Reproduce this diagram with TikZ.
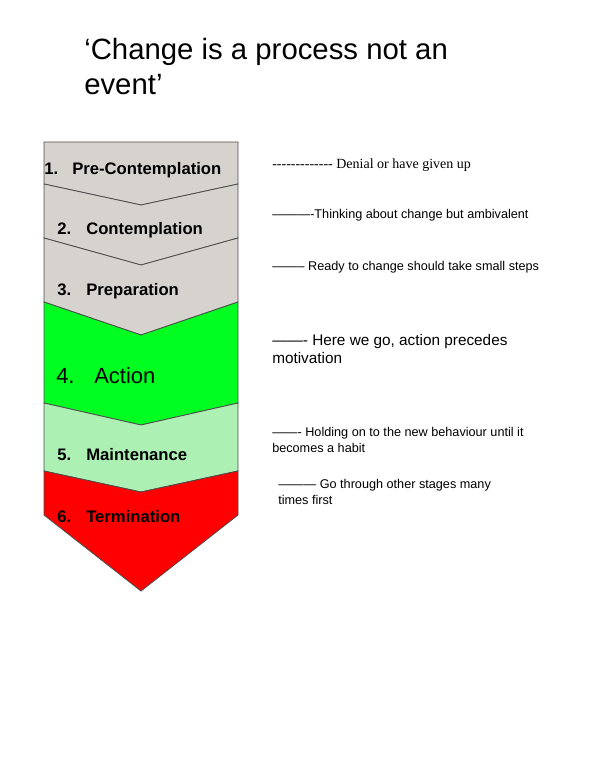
\documentclass[tikz,border=0pt]{standalone}
\usepackage{fontspec}
\setmainfont{Liberation Sans}
\newfontfamily\serifx{Liberation Serif}
\begin{document}
\begin{tikzpicture}[x=0.75pt,y=-0.75pt,
 stage/.style={draw=black!70,line width=0.6pt},
 lab/.style={anchor=west,font=\fontsize{12.5}{14}\selectfont\bfseries,inner sep=0},
 note/.style={anchor=west,font=\fontsize{9.5}{12}\selectfont,inner sep=0,align=left}]
\useasboundingbox (0,0) rectangle (600,776);
\definecolor{grayS}{RGB}{214,211,206}
\definecolor{greenS}{RGB}{0,255,33}
\definecolor{lgreenS}{RGB}{173,240,180}
\definecolor{redS}{RGB}{255,0,0}
\node[anchor=north west,align=left,inner sep=0,font=\fontsize{22}{26}\selectfont] (title) at (84,38) {‘Change is a process not an\\event’};
% stages
\fill[grayS,stage] (44,142) -- (238,142) -- (238,184) -- (141,205) -- (44,184) -- cycle;
\fill[grayS,stage] (44,184) -- (141,205) -- (238,184) -- (238,238) -- (141,265) -- (44,238) -- cycle;
\fill[grayS,stage] (44,238) -- (141,265) -- (238,238) -- (238,302) -- (141,335) -- (44,302) -- cycle;
\fill[greenS,stage] (44,302) -- (141,335) -- (238,302) -- (238,403) -- (141,425) -- (44,403) -- cycle;
\fill[lgreenS,stage] (44,403) -- (141,425) -- (238,403) -- (238,471) -- (141,492) -- (44,471) -- cycle;
\fill[redS,stage] (44,471) -- (141,492) -- (238,471) -- (238,515) -- (141,591) -- (44,515) -- cycle;
% labels
\node[lab] (l1) at (44,170) {\makebox[21pt][l]{1.}Pre-Contemplation};
\node[lab] (l2) at (57,230) {\makebox[21.75pt][l]{2.}Contemplation};
\node[lab] (l3) at (57,291) {\makebox[21.75pt][l]{3.}Preparation};
\node[lab,font=\fontsize{16.5}{18}\selectfont] (l4) at (56,376) {\makebox[28.5pt][l]{4.}Action};
\node[lab] (l5) at (57,455) {\makebox[21.75pt][l]{5.}Maintenance};
\node[lab] (l6) at (57,517) {\makebox[21.75pt][l]{6.}Termination};
% notes
\node[note,font=\fontsize{10.5}{12}\selectfont\serifx] (n1) at (272,165) {------------- Denial or have given up};
\node[note] (n2) at (272,215) {----------Thinking about change but ambivalent};
\node[note] (n3) at (272,267) {-------- Ready to change should take small steps};
\node[note,font=\fontsize{11.5}{13}\selectfont] (n4) at (272,349) {------- Here we go, action precedes\\motivation};
\node[note] (n5) at (272,440) {------- Holding on to the new behaviour until it\\becomes a habit};
\node[note] (n6) at (278,492) {--------- Go through other stages many\\times first};
\end{tikzpicture}
\end{document}
